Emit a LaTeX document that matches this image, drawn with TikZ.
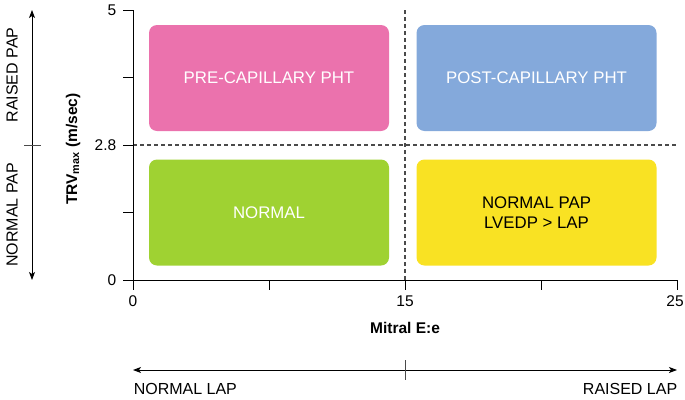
\documentclass[tikz,border=0pt]{standalone}
\usepackage{fontspec}
\setmainfont{Liberation Sans}
\usetikzlibrary{arrows.meta}
\definecolor{precap}{HTML}{EB72AD}
\definecolor{postcap}{HTML}{84A9DB}
\definecolor{normalgreen}{HTML}{9FD232}
\definecolor{lvyellow}{HTML}{F9E223}
\definecolor{guide}{HTML}{4A4A4A}

\begin{document}
\begin{tikzpicture}[x=1pt, y=-1pt, line width=0.9pt,
  >={Stealth[length=8pt, width=6pt, inset=2pt]},
  zone/.style={rounded corners=8pt, minimum width=240pt, minimum height=106pt,
    inner sep=0pt, align=center, font=\fontsize{16.8}{20}\selectfont},
  ticklabel/.style={font=\fontsize{15.5}{18}\selectfont},
  sidelabel/.style={font=\fontsize{16}{19}\selectfont}]
\useasboundingbox (0,0) rectangle (685,399);

% quadrant boxes
\node[zone, fill=precap, text=white] (pre) at (269,78) {PRE-CAPILLARY PHT};
\node[zone, fill=postcap, text=white] (post) at (536.5,78) {POST-CAPILLARY PHT};
\node[zone, fill=normalgreen, text=white] (norm) at (269,212.5) {NORMAL};
\node[zone, fill=lvyellow] (lvedp) at (536.5,212.5) {NORMAL PAP\\LVEDP > LAP};

% cut-off lines
\draw[guide, line width=1.1pt, dash pattern=on 4pt off 3pt] (405,10) -- (405,280);
\draw[guide, line width=1.1pt, dash pattern=on 4pt off 3pt] (133,145) -- (677,145);

% axes
\coordinate (ytop) at (133,10);
\coordinate (orig) at (133,280);
\coordinate (xend) at (677,280);
\draw (ytop) -- (orig) -- (xend);
\foreach \y in {10,77.5,145,212.5,280}
  \draw (123,\y) -- (133,\y);
\foreach \x in {133,269,405,541,677}
  \draw (\x,280) -- (\x,290);
\node[ticklabel, anchor=east] (y5) at (120,10) {5};
\node[ticklabel, anchor=east] (y28) at (120,145) {2.8};
\node[ticklabel, anchor=east] (y0) at (120,280) {0};
\node[ticklabel] (x0) at (133,301) {0};
\node[ticklabel] (x15) at (405,301) {15};
\node[ticklabel] (x25) at (675,301) {25};
\node[ticklabel, font=\fontsize{15.5}{18}\selectfont\bfseries] (xlab) at (405,328) {Mitral E:e};
\node[ticklabel, font=\fontsize{15.5}{18}\selectfont\bfseries, rotate=90] (ylab) at (73,149)
  {TRV\textsubscript{max} (m/sec)};

% pressure arrow
\coordinate (papTop) at (32,10);
\coordinate (papBot) at (32,280);
\draw[<->] (papTop) -- (papBot);
\draw[guide] (24,145) -- (41,145);
\node[sidelabel, rotate=90] (raisedPap) at (12,75) {RAISED PAP};
\node[sidelabel, rotate=90] (normalPap) at (12,215) {NORMAL PAP};

% atrial arrow
\coordinate (lapLeft) at (133,370);
\coordinate (lapRight) at (677,370);
\draw[<->] (lapLeft) -- (lapRight);
\draw[guide] (405,360) -- (405,380);
\node[sidelabel, anchor=west] (normalLap) at (130,389) {NORMAL LAP};
\node[sidelabel, anchor=east] (raisedLap) at (681,389) {RAISED LAP};
\end{tikzpicture}
\end{document}
